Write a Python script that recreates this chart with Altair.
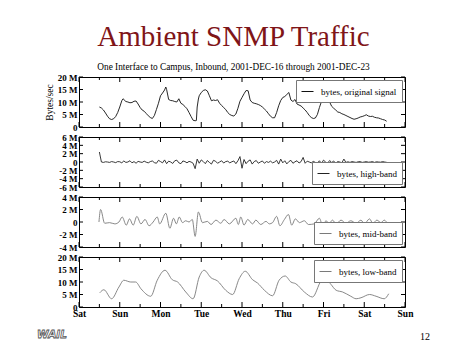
import altair as alt
import pandas as pd

DAY_LABELS = ["Sat", "Sun", "Mon", "Tue", "Wed", "Thu", "Fri", "Sat", "Sun"]
DAY_TICKS = [0, 1, 2, 3, 4, 5, 6, 7, 8]
HALF_TICKS = [0.5, 1.5, 2.5, 3.5, 4.5, 5.5, 6.5, 7.5]

SERIES_NAMES = ["bytes, original signal", "bytes, high-band", "bytes, mid-band", "bytes, low-band"]
Y_DOMAINS = [[0, 20], [-6, 6], [-4, 4], [0, 20]]
Y_TICKS = [[0, 5, 10, 15, 20], [-6, -4, -2, 0, 2, 4, 6], [-4, -2, 0, 2, 4], [0, 5, 10, 15, 20]]

# original signal (M bytes/sec), time in days since Sat 00:00
ORIG_T = [0.50, 0.55, 0.60, 0.65, 0.70, 0.75, 0.80, 0.85, 0.90, 0.95, 1.00, 1.05, 1.08, 1.10, 1.15,
          1.20, 1.25, 1.30, 1.35, 1.40, 1.45, 1.50, 1.55, 1.60, 1.65, 1.70, 1.75, 1.80, 1.85, 1.90,
          1.95, 2.00, 2.05, 2.10, 2.13, 2.15, 2.20, 2.25, 2.30, 2.35, 2.40, 2.45, 2.50, 2.55, 2.60,
          2.65, 2.70, 2.75, 2.80, 2.85, 2.88, 2.90, 2.93, 2.95, 3.00, 3.05, 3.10, 3.15, 3.20, 3.25,
          3.30, 3.35, 3.40, 3.45, 3.50, 3.55, 3.60, 3.65, 3.70, 3.75, 3.80, 3.85, 3.90, 3.95, 4.00,
          4.05, 4.10, 4.15, 4.20, 4.25, 4.30, 4.35, 4.40, 4.45, 4.50, 4.55, 4.60, 4.65, 4.70, 4.75,
          4.80, 4.85, 4.90, 4.95, 5.00, 5.05, 5.10, 5.15, 5.20, 5.25, 5.30, 5.35, 5.40, 5.45, 5.50,
          5.55, 5.60, 5.65, 5.70, 5.75, 5.80, 5.85, 5.90, 5.95, 6.00, 6.05, 6.10, 6.15, 6.20, 6.25,
          6.30, 6.35, 6.40, 6.45, 6.50, 6.55, 6.60, 6.65, 6.70, 6.75, 6.80, 6.85, 6.90, 6.95, 7.00,
          7.05, 7.10, 7.15, 7.20, 7.25, 7.30, 7.35, 7.40, 7.45, 7.50, 7.55]
ORIG_V = [8.0, 7.6, 6.8, 5.6, 4.3, 3.3, 3.0, 3.3, 4.2, 5.8, 8.0, 10.5, 11.3, 11.0, 10.2,
          10.0, 9.7, 9.8, 10.3, 10.4, 9.2, 7.8, 6.8, 6.3, 5.4, 4.5, 3.8, 3.4, 4.6, 7.0,
          9.5, 12.5, 13.6, 14.8, 16.0, 15.0, 11.0, 10.6, 10.5, 10.2, 10.0, 11.3, 9.5, 9.0, 8.2,
          7.3, 5.8, 4.2, 2.7, 2.5, 2.6, 8.0, 11.2, 12.5, 13.8, 14.6, 14.9, 14.4, 12.5, 10.5,
          10.8, 10.6, 10.9, 9.5, 8.6, 7.8, 7.0, 5.8, 5.0, 4.6, 4.4, 5.2, 7.5, 10.3, 11.8,
          13.3, 14.6, 14.5, 10.8, 9.8, 9.5, 9.3, 9.0, 8.6, 8.0, 7.2, 6.4, 5.3, 4.3, 3.7,
          3.7, 5.8, 8.5, 10.6, 11.8, 12.2, 13.0, 13.8, 10.8, 10.2, 11.0, 9.2, 8.8, 8.4, 7.6,
          6.8, 5.8, 4.6, 3.8, 3.4, 3.6, 5.0, 7.8, 10.2, 11.2, 11.8, 11.5, 10.0, 8.3, 7.5,
          6.8, 6.0, 5.8, 5.3, 5.0, 4.6, 4.2, 3.8, 3.4, 3.1, 3.3, 3.6, 4.0, 4.2, 4.5,
          4.9, 4.4, 4.2, 4.3, 3.9, 3.7, 3.6, 3.3, 3.0, 2.8, 2.3]

# high-band, sampled every 0.05 day starting at 0.50
HIGH_V = [2.4, 0.0, -0.1, 0.05, 0.0, -0.1, 0.1, 0.0, -0.15, 0.1,
          0.05, -0.2, 0.25, -0.1, 0.0, 0.3, -0.2, 0.1, -0.3, 0.15,
          0.0, -0.1, 0.2, -0.05, -0.2, 0.1, 0.25, -0.15, -0.3, 0.4,
          0.1, -0.2, 0.5, -0.4, 0.2, 0.0, -0.35, 0.3, 0.45, -0.2,
          -0.4, 0.25, 0.1, -0.2, 0.15, 0.0, -0.3, -1.6, 0.7, -0.3,
          0.5, 0.1, -0.4, 0.35, -0.1, -0.5, 0.4, 0.2, -0.3, 0.0,
          0.3, -0.25, 0.1, 0.2, -0.2, 0.05, 0.25, -0.4, 0.3, 1.3,
          -1.5, 0.6, -0.4, 0.2, 0.5, -0.5, 0.1, 0.35, -0.3, 0.0,
          0.25, -0.3, 0.1, -0.1, 0.2, -0.2, 0.0, 0.4, -0.5, 0.7,
          -0.2, 0.3, -0.45, 0.1, 0.4, -0.3, 0.05, 0.3, -0.25, 0.1,
          1.1, -0.3, 0.2, 0.0, -0.2, 0.15, -0.1, -0.25, 0.3, -0.35,
          0.45, 0.0, -0.3, 0.35, -0.1, 0.2, -0.25, 0.1, 0.0, -0.2,
          0.7, -0.1, 0.05, -0.1, 0.1, 0.0, -0.1, 0.05, 0.1, -0.1,
          0.0, 0.1, -0.05, 0.0, 0.1, -0.1, 0.05, 0.0, -0.05, 0.1,
          0.0, -0.1, -0.4]
HIGH_START = 0.50
HIGH_STEP = 0.05

MID_T = [0.49, 0.53, 0.63, 0.75, 0.88, 0.98, 1.06, 1.16, 1.24, 1.33, 1.42, 1.52, 1.62, 1.72,
         1.82, 1.92, 1.98, 2.13, 2.23, 2.32, 2.39, 2.46, 2.54, 2.62, 2.70, 2.78, 2.85, 2.93,
         3.03, 3.15, 3.24, 3.36, 3.48, 3.56, 3.69, 3.85, 3.91, 3.97, 4.05, 4.14, 4.26, 4.34,
         4.46, 4.59, 4.67, 4.75, 4.85, 4.93, 5.04, 5.14, 5.22, 5.31, 5.41, 5.53, 5.63, 5.77,
         5.90, 5.98, 6.06, 6.14, 6.22, 6.31, 6.43, 6.55, 6.67, 6.80, 6.92, 7.00, 7.13, 7.21,
         7.31, 7.41, 7.49, 7.58]
MID_V = [0.0, 2.0, -0.2, -0.1, -0.3, 0.0, 0.8, -0.5, 0.5, -0.5, 0.9, -0.3, 0.4, -0.6,
         0.0, 0.8, -0.3, 1.4, -1.0, 0.6, -0.3, 0.8, -0.1, 0.2, 0.0, 0.4, -2.3, 1.6,
         -0.1, 0.1, -0.4, 0.3, -0.2, 0.4, -0.3, 0.6, -0.4, 0.8, -0.5, 0.4, -0.3, 0.3,
         -0.4, 0.1, -0.3, -0.1, 0.9, -0.6, 0.4, 1.2, -0.5, 0.5, -0.1, 0.2, -0.4, -0.3,
         0.6, -0.6, 0.2, -0.2, 0.3, -0.3, 0.3, -0.2, 0.2, -0.2, 0.3, -0.3, 0.5, -0.2,
         0.3, -0.1, 0.3, -0.4]

LOW_T = [0.51, 0.61, 0.80, 0.98, 1.10, 1.27, 1.39, 1.52, 1.76, 1.92, 2.11, 2.29, 2.42, 2.62,
         2.80, 2.95, 3.07, 3.24, 3.40, 3.60, 3.77, 3.93, 4.08, 4.26, 4.38, 4.55, 4.75, 4.91,
         5.06, 5.20, 5.32, 5.53, 5.73, 5.94, 6.04, 6.18, 6.31, 6.47, 6.67, 6.80, 6.92, 7.13,
         7.29, 7.49, 7.60]
LOW_V = [5.7, 6.9, 3.3, 8.0, 10.7, 10.0, 10.0, 7.3, 4.3, 10.7, 14.7, 10.9, 10.0, 6.0,
         3.3, 12.0, 14.7, 11.7, 10.4, 6.7, 5.0, 11.3, 14.3, 10.9, 9.6, 6.7, 4.5, 10.7,
         12.4, 10.0, 9.3, 6.0, 4.0, 10.4, 11.6, 9.1, 6.7, 6.0, 4.3, 3.3, 3.7, 5.0,
         4.3, 3.3, 5.3]

LINE_COLORS = ["#111111", "#222222", "#7a7a7a", "#7a7a7a"]
LINE_INTERP = ["linear", "linear", "monotone", "monotone"]
LEGEND_ORIENT = ["top-right", "bottom-right", "bottom-right", "top-right"]

W, H = 326, 50
SERIF = "Liberation Serif"

high_t = [round(HIGH_START + HIGH_STEP * i, 3) for i in range(len(HIGH_V))]
frames = [
    pd.DataFrame({"t": ORIG_T, "v": ORIG_V}),
    pd.DataFrame({"t": high_t, "v": HIGH_V}),
    pd.DataFrame({"t": MID_T, "v": MID_V}),
    pd.DataFrame({"t": LOW_T, "v": LOW_V}),
]

day_expr = "[" + ",".join("'%s'" % d for d in DAY_LABELS) + "][round(datum.value)]"
ylab_expr = "datum.value == 0 ? '0' : datum.value + ' M'"


def panel(i, bottom=False):
    df = frames[i].copy()
    df["s"] = SERIES_NAMES[i]
    xs = alt.Scale(domain=[0, 8], nice=False, zero=False)
    ys = alt.Scale(domain=Y_DOMAINS[i], nice=False, zero=False)
    if bottom:
        xaxis = alt.Axis(values=DAY_TICKS, labelExpr=day_expr, title=None, ticks=False, domain=False,
                         grid=False, labelFlush=False, labelOverlap=False, labelPadding=1,
                         labelFont=SERIF, labelFontWeight="bold", labelFontSize=9.5, labelColor="black")
    else:
        xaxis = None
    ykw = dict(values=Y_TICKS[i], labelExpr=ylab_expr, ticks=False, domain=False, grid=False,
               labelOverlap=False, labelFlush=False, labelPadding=2, labelFont=SERIF,
               labelFontWeight="bold", labelFontSize=9, labelColor="black")
    if i == 0:
        ykw.update(title="Bytes/sec", titleFont=SERIF, titleFontWeight="normal", titleFontSize=9.5,
                   titleColor="black", titlePadding=3)
    else:
        ykw.update(title=None)
    yaxis = alt.Axis(**ykw)
    line = alt.Chart(df).mark_line(strokeWidth=0.9, interpolate=LINE_INTERP[i], clip=True).encode(
        x=alt.X("t:Q", scale=xs, axis=xaxis),
        y=alt.Y("v:Q", scale=ys, axis=yaxis),
        color=alt.Color("s:N", scale=alt.Scale(domain=[SERIES_NAMES[i]], range=[LINE_COLORS[i]]),
                        legend=alt.Legend(orient=LEGEND_ORIENT[i], title=None, offset=3, padding=5,
                                          strokeColor="#777777", fillColor="white", symbolType="stroke",
                                          symbolSize=144, symbolStrokeWidth=1, labelFont=SERIF,
                                          labelFontSize=9, labelOffset=7, labelColor="black",
                                          cornerRadius=0)),
    )
    dt = pd.DataFrame({"t": DAY_TICKS})
    ht = pd.DataFrame({"t": HALF_TICKS})
    yt = pd.DataFrame({"v": Y_TICKS[i]})
    tk = dict(color="black", strokeWidth=1)
    layers = [line]
    for d, ln in ((dt, 5), (ht, 3)):
        layers.append(alt.Chart(d).mark_rule(**tk).encode(
            x=alt.X("t:Q", scale=xs, axis=xaxis), y=alt.value(0), y2=alt.value(ln)))
        layers.append(alt.Chart(d).mark_rule(**tk).encode(
            x=alt.X("t:Q", scale=xs, axis=xaxis), y=alt.value(H), y2=alt.value(H - ln)))
    layers.append(alt.Chart(yt).mark_rule(**tk).encode(
        y=alt.Y("v:Q", scale=ys, axis=yaxis), x=alt.value(0), x2=alt.value(4)))
    layers.append(alt.Chart(yt).mark_rule(**tk).encode(
        y=alt.Y("v:Q", scale=ys, axis=yaxis), x=alt.value(W), x2=alt.value(W - 4)))
    if bottom:
        layers.append(alt.Chart(pd.DataFrame({"lab": ["12"]})).mark_text(
            font=SERIF, fontSize=10, color="black", align="center", baseline="middle").encode(
            text="lab:N", x=alt.value(346), y=alt.value(80)))
        layers.append(alt.Chart(pd.DataFrame({"lab": ["WAIL"]})).mark_text(
            font="DejaVu Sans", fontSize=10.5, fontStyle="italic", fontWeight="bold", fill="white",
            stroke="#555555", strokeWidth=0.8, align="left", baseline="middle").encode(
            text="lab:N", x=alt.value(-42), y=alt.value(78)))
    return alt.layer(*layers).properties(width=W, height=H)


chart = alt.vconcat(
    panel(0), panel(1), panel(2), panel(3, bottom=True),
    spacing=10, bounds="flush",
    title=alt.TitleParams(
        text="Ambient SNMP Traffic",
        subtitle="One Interface to Campus, Inbound, 2001-DEC-16 through 2001-DEC-23",
        font=SERIF, fontSize=29, fontWeight="normal", color="#7f1518",
        subtitleFont=SERIF, subtitleFontSize=9.3, subtitleColor="black", subtitlePadding=11,
        anchor="middle", offset=0),
).resolve_scale(color="independent").resolve_legend(color="independent").properties(
    padding={"left": 36, "top": 23, "right": 10, "bottom": 5},
    background="white",
).configure_view(stroke="black", strokeWidth=1)

chart.save("out.html", embed_options={"renderer": "svg", "actions": False})
